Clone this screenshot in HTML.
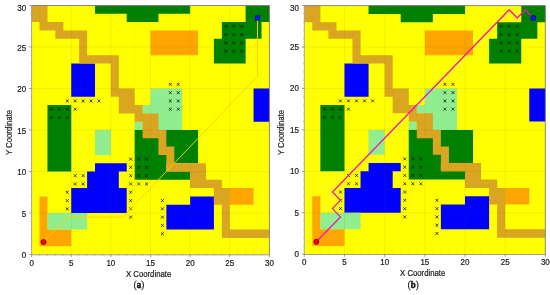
<!DOCTYPE html>
<html><head><meta charset="utf-8"><title>Path planning comparison</title>
<style>
html,body{margin:0;padding:0;background:#fff;}
svg{display:block}
.t{font-family:"Liberation Sans",sans-serif;font-size:9.1px;fill:#1c1c1c;stroke:#1c1c1c;stroke-width:0.22px}
.l{font-family:"Liberation Sans",sans-serif;font-size:8.5px;fill:#1c1c1c;stroke:#1c1c1c;stroke-width:0.22px}
.c{font-family:"Liberation Serif",serif;font-size:10.3px;fill:#111;stroke:#111;stroke-width:0.2px}
</style></head><body>
<svg width="550" height="295" viewBox="0 0 550 295">
<rect width="550" height="295" fill="#fff"/>
<g>
<rect x="31.6" y="5.5" width="237.81" height="249" fill="#FFFF00"/>
<path d="M150.5 30.4H198.07V55.3H150.5ZM39.53 196.4H47.45V246.2H39.53ZM39.53 229.6H71.23V246.2H39.53ZM229.77 188.1H253.56V204.7H229.77Z" fill="#FFA500"/>
<path d="M95.02 5.5H190.14V13.8H95.02ZM126.72 13.8H158.43V22.1H126.72ZM245.63 5.5H269.41V22.1H245.63ZM221.85 22.1H261.48V38.7H221.85ZM213.92 38.7H245.63V63.6H213.92ZM47.45 105.1H71.23V171.5H47.45ZM134.65 130H198.07V163.2H134.65ZM134.65 163.2H166.36V171.5H134.65ZM134.65 171.5H190.14V179.8H134.65Z" fill="#008000"/>
<path d="M71.23 63.6H95.02V96.8H71.23ZM253.56 88.5H269.41V121.7H253.56ZM95.02 163.2H126.72V171.5H95.02ZM87.09 171.5H118.8V188.1H87.09ZM71.23 188.1H126.72V213H71.23ZM166.36 204.7H213.92V229.6H166.36ZM190.14 196.4H213.92V204.7H190.14Z" fill="#0000FF"/>
<path d="M150.5 88.5H182.21V130H150.5ZM142.58 105.1H150.5V113.4H142.58ZM134.65 121.7H142.58V130H134.65ZM95.02 130H110.87V154.9H95.02ZM47.45 213H87.09V229.6H47.45Z" fill="#90EE90"/>
<path d="M31.6 5.5H47.45V13.8H31.6ZM31.6 13.8H47.45V22.1H31.6ZM39.53 22.1H63.31V30.4H39.53ZM55.38 30.4H87.09V38.7H55.38ZM79.16 38.7H87.09V47H79.16ZM79.16 47H87.09V55.3H79.16ZM79.16 55.3H118.8V63.6H79.16ZM110.87 63.6H118.8V71.9H110.87ZM110.87 71.9H118.8V80.2H110.87ZM110.87 80.2H118.8V88.5H110.87ZM110.87 88.5H134.65V96.8H110.87ZM118.8 96.8H134.65V105.1H118.8ZM118.8 105.1H142.58V113.4H118.8ZM134.65 113.4H158.43V121.7H134.65ZM142.58 121.7H158.43V130H142.58ZM142.58 130H166.36V138.3H142.58ZM158.43 138.3H166.36V146.6H158.43ZM158.43 146.6H174.29V154.9H158.43ZM166.36 154.9H174.29V163.2H166.36ZM166.36 163.2H205.99V171.5H166.36ZM190.14 171.5H205.99V179.8H190.14ZM190.14 179.8H221.85V188.1H190.14ZM213.92 188.1H229.77V196.4H213.92ZM213.92 196.4H229.77V204.7H213.92ZM221.85 204.7H229.77V213H221.85ZM221.85 213H229.77V221.3H221.85ZM221.85 221.3H229.77V229.6H221.85ZM221.85 229.6H269.41V237.9H221.85Z" fill="#DAA520"/>
<path d="M39.53 5.5V254.5M47.45 5.5V254.5M55.38 5.5V254.5M63.31 5.5V254.5M79.16 5.5V254.5M87.09 5.5V254.5M95.02 5.5V254.5M102.94 5.5V254.5M118.8 5.5V254.5M126.72 5.5V254.5M134.65 5.5V254.5M142.58 5.5V254.5M158.43 5.5V254.5M166.36 5.5V254.5M174.29 5.5V254.5M182.21 5.5V254.5M198.07 5.5V254.5M205.99 5.5V254.5M213.92 5.5V254.5M221.85 5.5V254.5M237.7 5.5V254.5M245.63 5.5V254.5M253.56 5.5V254.5M261.48 5.5V254.5" stroke="#808000" stroke-opacity="0.028" stroke-width="1" fill="none"/>
<path d="M71.23 5.5V254.5M31.6 213H269.41M110.87 5.5V254.5M31.6 171.5H269.41M150.5 5.5V254.5M31.6 130H269.41M190.14 5.5V254.5M31.6 88.5H269.41M229.77 5.5V254.5M31.6 47H269.41" stroke="#606000" stroke-opacity="0.095" stroke-width="1" fill="none"/>
<path d="M224.36 49.7L227.26 52.6M224.36 52.6L227.26 49.7M224.36 41.4L227.26 44.3M224.36 44.3L227.26 41.4M224.36 33.1L227.26 36M224.36 36L227.26 33.1M224.36 24.8L227.26 27.7M224.36 27.7L227.26 24.8M232.29 49.7L235.19 52.6M232.29 52.6L235.19 49.7M232.29 41.4L235.19 44.3M232.29 44.3L235.19 41.4M232.29 33.1L235.19 36M232.29 36L235.19 33.1M232.29 24.8L235.19 27.7M232.29 27.7L235.19 24.8M240.22 49.7L243.12 52.6M240.22 52.6L243.12 49.7M240.22 41.4L243.12 44.3M240.22 44.3L243.12 41.4M240.22 33.1L243.12 36M240.22 36L243.12 33.1M240.22 24.8L243.12 27.7M240.22 27.7L243.12 24.8M65.82 99.5L68.72 102.4M65.82 102.4L68.72 99.5M73.75 99.5L76.65 102.4M73.75 102.4L76.65 99.5M81.68 99.5L84.58 102.4M81.68 102.4L84.58 99.5M89.6 99.5L92.5 102.4M89.6 102.4L92.5 99.5M97.53 99.5L100.43 102.4M97.53 102.4L100.43 99.5M49.97 107.8L52.87 110.7M49.97 110.7L52.87 107.8M57.89 107.8L60.79 110.7M57.89 110.7L60.79 107.8M65.82 107.8L68.72 110.7M65.82 110.7L68.72 107.8M73.75 107.8L76.65 110.7M73.75 110.7L76.65 107.8M49.97 116.1L52.87 119M49.97 119L52.87 116.1M57.89 116.1L60.79 119M57.89 119L60.79 116.1M65.82 116.1L68.72 119M65.82 119L68.72 116.1M168.87 107.8L171.77 110.7M168.87 110.7L171.77 107.8M168.87 99.5L171.77 102.4M168.87 102.4L171.77 99.5M168.87 91.2L171.77 94.1M168.87 94.1L171.77 91.2M168.87 82.9L171.77 85.8M168.87 85.8L171.77 82.9M176.8 107.8L179.7 110.7M176.8 110.7L179.7 107.8M176.8 99.5L179.7 102.4M176.8 102.4L179.7 99.5M176.8 91.2L179.7 94.1M176.8 94.1L179.7 91.2M176.8 82.9L179.7 85.8M176.8 85.8L179.7 82.9M129.24 157.6L132.14 160.5M129.24 160.5L132.14 157.6M129.24 165.9L132.14 168.8M129.24 168.8L132.14 165.9M129.24 174.2L132.14 177.1M129.24 177.1L132.14 174.2M129.24 182.5L132.14 185.4M129.24 185.4L132.14 182.5M129.24 190.8L132.14 193.7M129.24 193.7L132.14 190.8M129.24 199.1L132.14 202M129.24 202L132.14 199.1M129.24 207.4L132.14 210.3M129.24 210.3L132.14 207.4M129.24 215.7L132.14 218.6M129.24 218.6L132.14 215.7M137.16 157.6L140.06 160.5M137.16 160.5L140.06 157.6M137.16 165.9L140.06 168.8M137.16 168.8L140.06 165.9M137.16 174.2L140.06 177.1M137.16 177.1L140.06 174.2M137.16 182.5L140.06 185.4M137.16 185.4L140.06 182.5M145.09 157.6L147.99 160.5M145.09 160.5L147.99 157.6M145.09 165.9L147.99 168.8M145.09 168.8L147.99 165.9M145.09 174.2L147.99 177.1M145.09 177.1L147.99 174.2M145.09 182.5L147.99 185.4M145.09 185.4L147.99 182.5M73.75 174.2L76.65 177.1M73.75 177.1L76.65 174.2M73.75 182.5L76.65 185.4M73.75 185.4L76.65 182.5M81.68 174.2L84.58 177.1M81.68 177.1L84.58 174.2M81.68 182.5L84.58 185.4M81.68 185.4L84.58 182.5M65.82 190.8L68.72 193.7M65.82 193.7L68.72 190.8M65.82 199.1L68.72 202M65.82 202L68.72 199.1M65.82 207.4L68.72 210.3M65.82 210.3L68.72 207.4M160.95 199.1L163.85 202M160.95 202L163.85 199.1M160.95 207.4L163.85 210.3M160.95 210.3L163.85 207.4M160.95 215.7L163.85 218.6M160.95 218.6L163.85 215.7M160.95 224L163.85 226.9M160.95 226.9L163.85 224M160.95 232.3L163.85 235.2M160.95 235.2L163.85 232.3" stroke="#101010" stroke-width="0.8" fill="none"/>
<polyline points="43.49,242.05 67.27,217.15 122.76,217.15 257.52,76.05 257.52,17.95" stroke="#FFD000" stroke-width="0.95" fill="none" stroke-linejoin="miter"/>
<circle cx="43.49" cy="242.05" r="2.55" fill="#FF0000" stroke="#8B0000" stroke-width="0.9"/>
<rect x="255.27" y="15.7" width="4.5" height="4.5" fill="#1010FF" stroke="#00008B" stroke-width="0.6"/>
<path d="M31.6 5.5H269.41V254.5" stroke="#7c7c7c" stroke-width="0.9" fill="none"/>
<path d="M31.6 5.5V254.5" stroke="#9c9c9c" stroke-width="0.9" fill="none"/>
<path d="M31.6 254.8H269.41" stroke="#909090" stroke-width="0.9" fill="none"/>
<path d="M31.6 254.5v2.6M31.6 254.5h-2.4M71.23 254.5v2.6M31.6 213h-2.4M110.87 254.5v2.6M31.6 171.5h-2.4M150.5 254.5v2.6M31.6 130h-2.4M190.14 254.5v2.6M31.6 88.5h-2.4M229.77 254.5v2.6M31.6 47h-2.4M269.41 254.5v2.6M31.6 5.5h-2.4" stroke="#8a8a8a" stroke-width="0.85" fill="none"/>
<path d="M39.53 254.5v1.3M31.6 246.2h-1.2M47.45 254.5v1.3M31.6 237.9h-1.2M55.38 254.5v1.3M31.6 229.6h-1.2M63.31 254.5v1.3M31.6 221.3h-1.2M79.16 254.5v1.3M31.6 204.7h-1.2M87.09 254.5v1.3M31.6 196.4h-1.2M95.02 254.5v1.3M31.6 188.1h-1.2M102.94 254.5v1.3M31.6 179.8h-1.2M118.8 254.5v1.3M31.6 163.2h-1.2M126.72 254.5v1.3M31.6 154.9h-1.2M134.65 254.5v1.3M31.6 146.6h-1.2M142.58 254.5v1.3M31.6 138.3h-1.2M158.43 254.5v1.3M31.6 121.7h-1.2M166.36 254.5v1.3M31.6 113.4h-1.2M174.29 254.5v1.3M31.6 105.1h-1.2M182.21 254.5v1.3M31.6 96.8h-1.2M198.07 254.5v1.3M31.6 80.2h-1.2M205.99 254.5v1.3M31.6 71.9h-1.2M213.92 254.5v1.3M31.6 63.6h-1.2M221.85 254.5v1.3M31.6 55.3h-1.2M237.7 254.5v1.3M31.6 38.7h-1.2M245.63 254.5v1.3M31.6 30.4h-1.2M253.56 254.5v1.3M31.6 22.1h-1.2M261.48 254.5v1.3M31.6 13.8h-1.2" stroke="#a8a8a8" stroke-width="0.75" fill="none"/>
<text class="t" transform="translate(31.6 266.1) scale(0.88 1)" text-anchor="middle">0</text>
<text class="t" transform="translate(26.2 258) scale(0.88 1)" text-anchor="end">0</text>
<text class="t" transform="translate(71.23 266.1) scale(0.88 1)" text-anchor="middle">5</text>
<text class="t" transform="translate(26.2 216.5) scale(0.88 1)" text-anchor="end">5</text>
<text class="t" transform="translate(110.87 266.1) scale(0.88 1)" text-anchor="middle">10</text>
<text class="t" transform="translate(26.2 175) scale(0.88 1)" text-anchor="end">10</text>
<text class="t" transform="translate(150.5 266.1) scale(0.88 1)" text-anchor="middle">15</text>
<text class="t" transform="translate(26.2 133.5) scale(0.88 1)" text-anchor="end">15</text>
<text class="t" transform="translate(190.14 266.1) scale(0.88 1)" text-anchor="middle">20</text>
<text class="t" transform="translate(26.2 92) scale(0.88 1)" text-anchor="end">20</text>
<text class="t" transform="translate(229.77 266.1) scale(0.88 1)" text-anchor="middle">25</text>
<text class="t" transform="translate(26.2 50.5) scale(0.88 1)" text-anchor="end">25</text>
<text class="t" transform="translate(269.41 266.1) scale(0.88 1)" text-anchor="middle">30</text>
<text class="t" transform="translate(26.2 11.1) scale(0.88 1)" text-anchor="end">30</text>
<text class="l" transform="translate(148.6 276.5) scale(0.915 1)" text-anchor="middle">X Coordinate</text>
<text class="l" transform="translate(11.6 132.5) rotate(-90) scale(0.915 1)" text-anchor="middle">Y Coordinate</text>
<text class="c" transform="translate(139 287.5) scale(0.86 1)" text-anchor="middle">(<tspan font-weight="bold" stroke-width="0.5">a</tspan>)</text>
</g>
<g>
<rect x="304.3" y="5.6" width="241.05" height="248.6" fill="#FFFF00"/>
<path d="M424.83 30.46H473.04V55.32H424.83ZM312.34 196.19H320.37V245.91H312.34ZM312.34 229.34H344.48V245.91H312.34ZM505.18 187.91H529.28V204.48H505.18Z" fill="#FFA500"/>
<path d="M368.58 5.6H465V13.89H368.58ZM400.72 13.89H432.86V22.17H400.72ZM521.25 5.6H545.35V22.17H521.25ZM497.14 22.17H537.32V38.75H497.14ZM489.11 38.75H521.25V63.61H489.11ZM320.37 105.04H344.48V171.33H320.37ZM408.75 129.9H473.04V163.05H408.75ZM408.75 163.05H440.89V171.33H408.75ZM408.75 171.33H465V179.62H408.75Z" fill="#008000"/>
<path d="M344.48 63.61H368.58V96.75H344.48ZM529.28 88.47H545.35V121.61H529.28ZM368.58 163.05H400.72V171.33H368.58ZM360.55 171.33H392.69V187.91H360.55ZM344.48 187.91H400.72V212.77H344.48ZM440.89 204.48H489.11V229.34H440.89ZM465 196.19H489.11V204.48H465Z" fill="#0000FF"/>
<path d="M424.83 88.47H456.97V129.9H424.83ZM416.79 105.04H424.83V113.33H416.79ZM408.75 121.61H416.79V129.9H408.75ZM368.58 129.9H384.65V154.76H368.58ZM320.37 212.77H360.55V229.34H320.37Z" fill="#90EE90"/>
<path d="M304.3 5.6H320.37V13.89H304.3ZM304.3 13.89H320.37V22.17H304.3ZM312.34 22.17H336.44V30.46H312.34ZM328.41 30.46H360.55V38.75H328.41ZM352.51 38.75H360.55V47.03H352.51ZM352.51 47.03H360.55V55.32H352.51ZM352.51 55.32H392.69V63.61H352.51ZM384.65 63.61H392.69V71.89H384.65ZM384.65 71.89H392.69V80.18H384.65ZM384.65 80.18H392.69V88.47H384.65ZM384.65 88.47H408.75V96.75H384.65ZM392.69 96.75H408.75V105.04H392.69ZM392.69 105.04H416.79V113.33H392.69ZM408.75 113.33H432.86V121.61H408.75ZM416.79 121.61H432.86V129.9H416.79ZM416.79 129.9H440.89V138.19H416.79ZM432.86 138.19H440.89V146.47H432.86ZM432.86 146.47H448.93V154.76H432.86ZM440.89 154.76H448.93V163.05H440.89ZM440.89 163.05H481.07V171.33H440.89ZM465 171.33H481.07V179.62H465ZM465 179.62H497.14V187.91H465ZM489.11 187.91H505.18V196.19H489.11ZM489.11 196.19H505.18V204.48H489.11ZM497.14 204.48H505.18V212.77H497.14ZM497.14 212.77H505.18V221.05H497.14ZM497.14 221.05H505.18V229.34H497.14ZM497.14 229.34H545.35V237.63H497.14Z" fill="#DAA520"/>
<path d="M312.34 5.6V254.2M320.37 5.6V254.2M328.41 5.6V254.2M336.44 5.6V254.2M352.51 5.6V254.2M360.55 5.6V254.2M368.58 5.6V254.2M376.62 5.6V254.2M392.69 5.6V254.2M400.72 5.6V254.2M408.75 5.6V254.2M416.79 5.6V254.2M432.86 5.6V254.2M440.89 5.6V254.2M448.93 5.6V254.2M456.97 5.6V254.2M473.04 5.6V254.2M481.07 5.6V254.2M489.11 5.6V254.2M497.14 5.6V254.2M513.21 5.6V254.2M521.25 5.6V254.2M529.28 5.6V254.2M537.32 5.6V254.2" stroke="#808000" stroke-opacity="0.028" stroke-width="1" fill="none"/>
<path d="M344.48 5.6V254.2M304.3 212.77H545.35M384.65 5.6V254.2M304.3 171.33H545.35M424.83 5.6V254.2M304.3 129.9H545.35M465 5.6V254.2M304.3 88.47H545.35M505.18 5.6V254.2M304.3 47.03H545.35" stroke="#606000" stroke-opacity="0.095" stroke-width="1" fill="none"/>
<path d="M499.71 49.73L502.61 52.63M499.71 52.63L502.61 49.73M499.71 41.44L502.61 44.34M499.71 44.34L502.61 41.44M499.71 33.15L502.61 36.05M499.71 36.05L502.61 33.15M499.71 24.87L502.61 27.77M499.71 27.77L502.61 24.87M507.74 49.73L510.64 52.63M507.74 52.63L510.64 49.73M507.74 41.44L510.64 44.34M507.74 44.34L510.64 41.44M507.74 33.15L510.64 36.05M507.74 36.05L510.64 33.15M507.74 24.87L510.64 27.77M507.74 27.77L510.64 24.87M515.78 49.73L518.68 52.63M515.78 52.63L518.68 49.73M515.78 41.44L518.68 44.34M515.78 44.34L518.68 41.44M515.78 33.15L518.68 36.05M515.78 36.05L518.68 33.15M515.78 24.87L518.68 27.77M515.78 27.77L518.68 24.87M339.01 99.45L341.91 102.35M339.01 102.35L341.91 99.45M347.04 99.45L349.94 102.35M347.04 102.35L349.94 99.45M355.08 99.45L357.98 102.35M355.08 102.35L357.98 99.45M363.11 99.45L366.01 102.35M363.11 102.35L366.01 99.45M371.15 99.45L374.05 102.35M371.15 102.35L374.05 99.45M322.94 107.73L325.84 110.63M322.94 110.63L325.84 107.73M330.97 107.73L333.87 110.63M330.97 110.63L333.87 107.73M339.01 107.73L341.91 110.63M339.01 110.63L341.91 107.73M347.04 107.73L349.94 110.63M347.04 110.63L349.94 107.73M322.94 116.02L325.84 118.92M322.94 118.92L325.84 116.02M330.97 116.02L333.87 118.92M330.97 118.92L333.87 116.02M339.01 116.02L341.91 118.92M339.01 118.92L341.91 116.02M443.46 107.73L446.36 110.63M443.46 110.63L446.36 107.73M443.46 99.45L446.36 102.35M443.46 102.35L446.36 99.45M443.46 91.16L446.36 94.06M443.46 94.06L446.36 91.16M443.46 82.87L446.36 85.77M443.46 85.77L446.36 82.87M451.5 107.73L454.4 110.63M451.5 110.63L454.4 107.73M451.5 99.45L454.4 102.35M451.5 102.35L454.4 99.45M451.5 91.16L454.4 94.06M451.5 94.06L454.4 91.16M451.5 82.87L454.4 85.77M451.5 85.77L454.4 82.87M403.29 157.45L406.19 160.35M403.29 160.35L406.19 157.45M403.29 165.74L406.19 168.64M403.29 168.64L406.19 165.74M403.29 174.03L406.19 176.93M403.29 176.93L406.19 174.03M403.29 182.31L406.19 185.21M403.29 185.21L406.19 182.31M403.29 190.6L406.19 193.5M403.29 193.5L406.19 190.6M403.29 198.89L406.19 201.79M403.29 201.79L406.19 198.89M403.29 207.17L406.19 210.07M403.29 210.07L406.19 207.17M403.29 215.46L406.19 218.36M403.29 218.36L406.19 215.46M411.32 157.45L414.22 160.35M411.32 160.35L414.22 157.45M411.32 165.74L414.22 168.64M411.32 168.64L414.22 165.74M411.32 174.03L414.22 176.93M411.32 176.93L414.22 174.03M411.32 182.31L414.22 185.21M411.32 185.21L414.22 182.31M419.36 157.45L422.26 160.35M419.36 160.35L422.26 157.45M419.36 165.74L422.26 168.64M419.36 168.64L422.26 165.74M419.36 174.03L422.26 176.93M419.36 176.93L422.26 174.03M419.36 182.31L422.26 185.21M419.36 185.21L422.26 182.31M347.04 174.03L349.94 176.93M347.04 176.93L349.94 174.03M347.04 182.31L349.94 185.21M347.04 185.21L349.94 182.31M355.08 174.03L357.98 176.93M355.08 176.93L357.98 174.03M355.08 182.31L357.98 185.21M355.08 185.21L357.98 182.31M339.01 190.6L341.91 193.5M339.01 193.5L341.91 190.6M339.01 198.89L341.91 201.79M339.01 201.79L341.91 198.89M339.01 207.17L341.91 210.07M339.01 210.07L341.91 207.17M435.43 198.89L438.33 201.79M435.43 201.79L438.33 198.89M435.43 207.17L438.33 210.07M435.43 210.07L438.33 207.17M435.43 215.46L438.33 218.36M435.43 218.36L438.33 215.46M435.43 223.75L438.33 226.65M435.43 226.65L438.33 223.75M435.43 232.03L438.33 234.93M435.43 234.93L438.33 232.03" stroke="#101010" stroke-width="0.8" fill="none"/>
<polyline points="316.35,241.77 340.46,216.91 332.42,208.62 340.46,200.34 332.42,192.05 509.19,9.74 517.23,18.03 525.26,9.74 533.3,18.03" stroke="#F010C0" stroke-width="1.25" fill="none" stroke-linejoin="miter"/>
<circle cx="316.35" cy="241.77" r="2.55" fill="#FF0000" stroke="#8B0000" stroke-width="0.9"/>
<rect x="531.05" y="15.78" width="4.5" height="4.5" fill="#1010FF" stroke="#00008B" stroke-width="0.6"/>
<path d="M304.3 5.6H545.35V254.2" stroke="#7c7c7c" stroke-width="0.9" fill="none"/>
<path d="M304.3 5.6V254.2" stroke="#9c9c9c" stroke-width="0.9" fill="none"/>
<path d="M304.3 254.5H545.35" stroke="#909090" stroke-width="0.9" fill="none"/>
<path d="M304.3 254.2v2.6M304.3 254.2h-2.4M344.48 254.2v2.6M304.3 212.77h-2.4M384.65 254.2v2.6M304.3 171.33h-2.4M424.83 254.2v2.6M304.3 129.9h-2.4M465 254.2v2.6M304.3 88.47h-2.4M505.18 254.2v2.6M304.3 47.03h-2.4M545.35 254.2v2.6M304.3 5.6h-2.4" stroke="#8a8a8a" stroke-width="0.85" fill="none"/>
<path d="M312.34 254.2v1.3M304.3 245.91h-1.2M320.37 254.2v1.3M304.3 237.63h-1.2M328.41 254.2v1.3M304.3 229.34h-1.2M336.44 254.2v1.3M304.3 221.05h-1.2M352.51 254.2v1.3M304.3 204.48h-1.2M360.55 254.2v1.3M304.3 196.19h-1.2M368.58 254.2v1.3M304.3 187.91h-1.2M376.62 254.2v1.3M304.3 179.62h-1.2M392.69 254.2v1.3M304.3 163.05h-1.2M400.72 254.2v1.3M304.3 154.76h-1.2M408.75 254.2v1.3M304.3 146.47h-1.2M416.79 254.2v1.3M304.3 138.19h-1.2M432.86 254.2v1.3M304.3 121.61h-1.2M440.89 254.2v1.3M304.3 113.33h-1.2M448.93 254.2v1.3M304.3 105.04h-1.2M456.97 254.2v1.3M304.3 96.75h-1.2M473.04 254.2v1.3M304.3 80.18h-1.2M481.07 254.2v1.3M304.3 71.89h-1.2M489.11 254.2v1.3M304.3 63.61h-1.2M497.14 254.2v1.3M304.3 55.32h-1.2M513.21 254.2v1.3M304.3 38.75h-1.2M521.25 254.2v1.3M304.3 30.46h-1.2M529.28 254.2v1.3M304.3 22.17h-1.2M537.32 254.2v1.3M304.3 13.89h-1.2" stroke="#a8a8a8" stroke-width="0.75" fill="none"/>
<text class="t" transform="translate(304.3 265.4) scale(0.88 1)" text-anchor="middle">0</text>
<text class="t" transform="translate(298.9 257.2) scale(0.88 1)" text-anchor="end">0</text>
<text class="t" transform="translate(344.48 265.4) scale(0.88 1)" text-anchor="middle">5</text>
<text class="t" transform="translate(298.9 215.77) scale(0.88 1)" text-anchor="end">5</text>
<text class="t" transform="translate(384.65 265.4) scale(0.88 1)" text-anchor="middle">10</text>
<text class="t" transform="translate(298.9 174.33) scale(0.88 1)" text-anchor="end">10</text>
<text class="t" transform="translate(424.83 265.4) scale(0.88 1)" text-anchor="middle">15</text>
<text class="t" transform="translate(298.9 132.9) scale(0.88 1)" text-anchor="end">15</text>
<text class="t" transform="translate(465 265.4) scale(0.88 1)" text-anchor="middle">20</text>
<text class="t" transform="translate(298.9 91.47) scale(0.88 1)" text-anchor="end">20</text>
<text class="t" transform="translate(505.18 265.4) scale(0.88 1)" text-anchor="middle">25</text>
<text class="t" transform="translate(298.9 50.03) scale(0.88 1)" text-anchor="end">25</text>
<text class="t" transform="translate(545.35 265.4) scale(0.88 1)" text-anchor="middle">30</text>
<text class="t" transform="translate(298.9 11.2) scale(0.88 1)" text-anchor="end">30</text>
<text class="l" transform="translate(422.7 276.15) scale(0.915 1)" text-anchor="middle">X Coordinate</text>
<text class="l" transform="translate(283.6 132.5) rotate(-90) scale(0.915 1)" text-anchor="middle">Y Coordinate</text>
<text class="c" transform="translate(413.2 287.5) scale(0.86 1)" text-anchor="middle">(<tspan font-weight="bold" stroke-width="0.5">b</tspan>)</text>
</g>
</svg>
</body></html>
